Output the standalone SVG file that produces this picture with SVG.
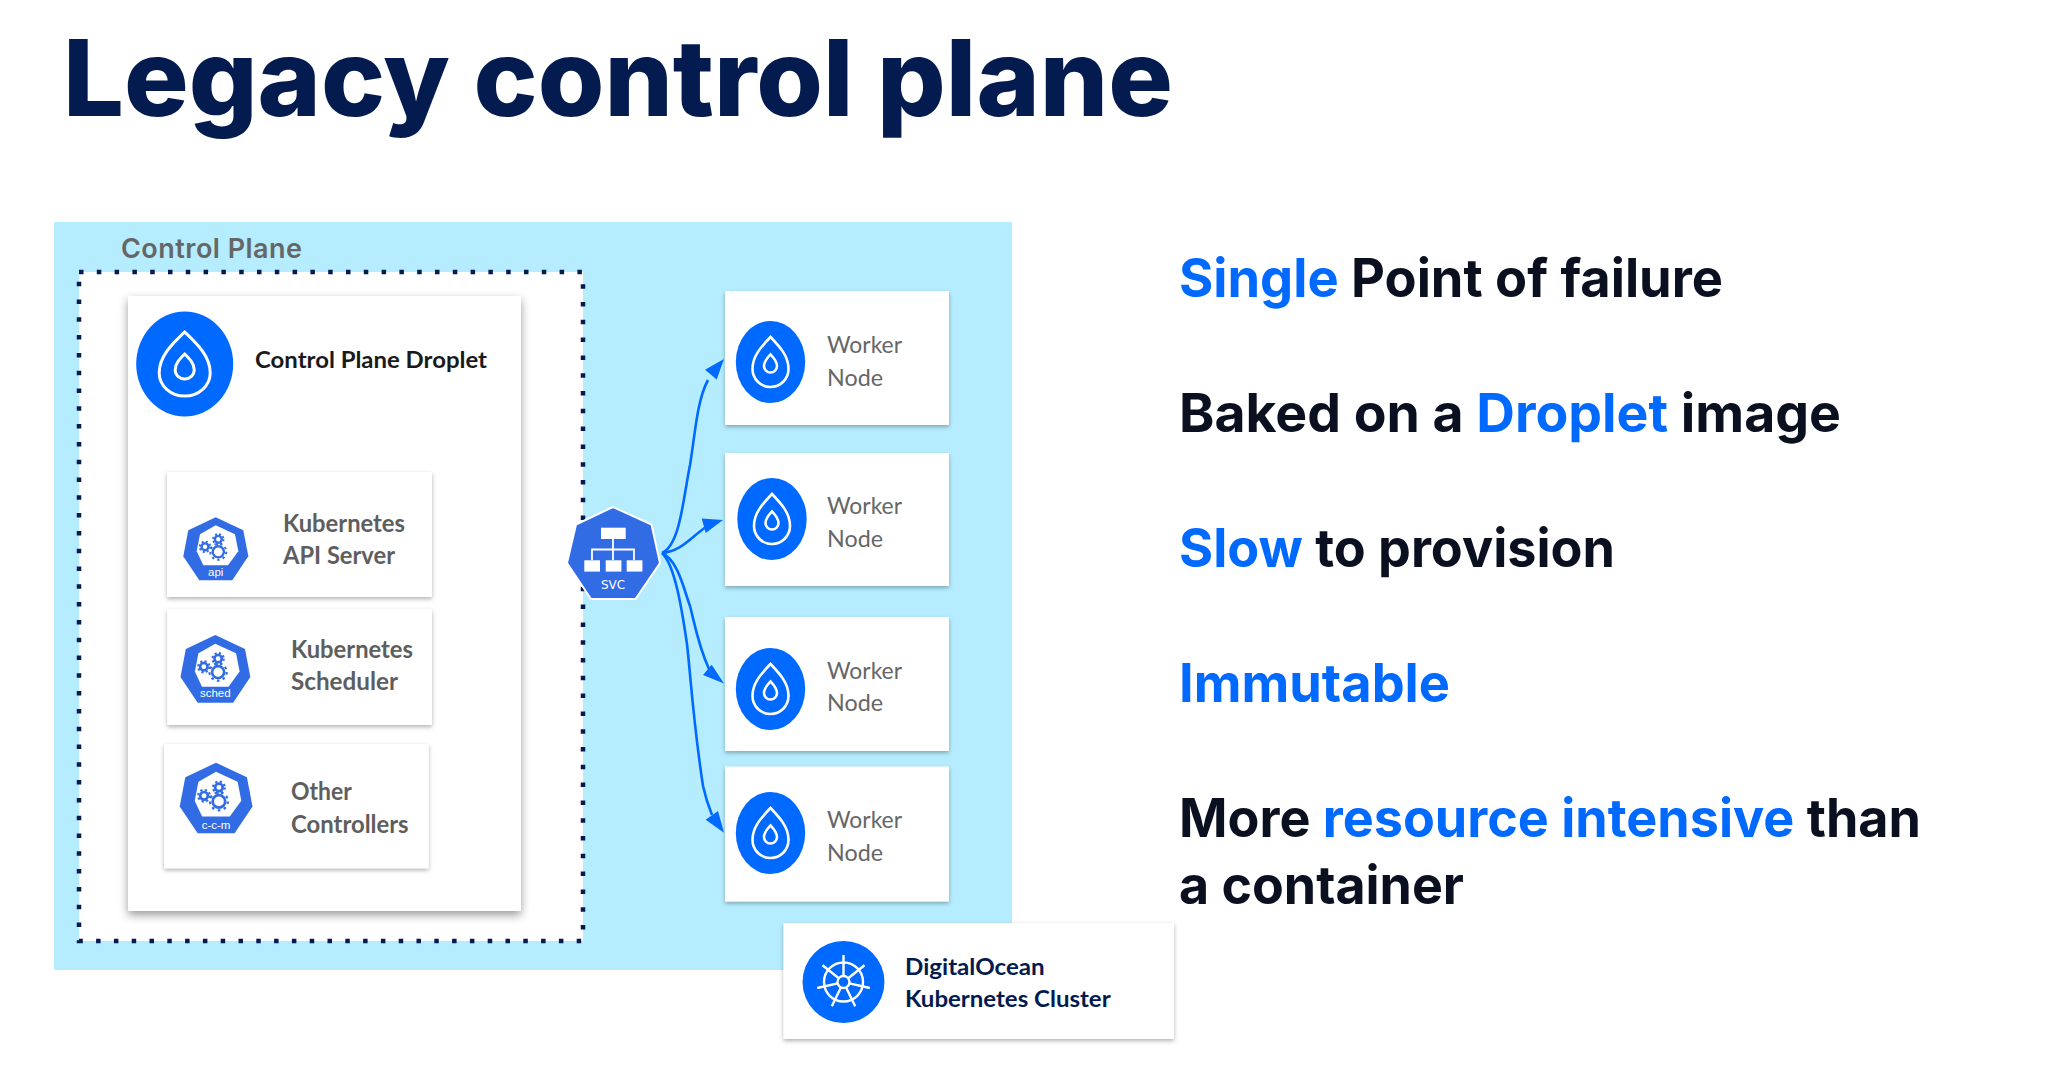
<svg xmlns="http://www.w3.org/2000/svg" width="2064" height="1072" viewBox="0 0 2064 1072">
<style>
text{font-family:"Inter","Liberation Sans",sans-serif}
.card{fill:#fff;filter:url(#sh)}
.blue{fill:#0069ff}
.wl{fill:none;stroke:#fff}
.worker{font-family:"Lato","Liberation Sans",sans-serif;font-size:23px;fill:#666;font-weight:400}
.lab{font-family:"Lato","Liberation Sans",sans-serif;font-size:24px;fill:#5e5e5e;font-weight:700}
.big{font-family:"Inter",sans-serif;font-size:53px;font-weight:700;fill:#0b1020}
.hl{fill:#0069ff}
.conn{fill:none;stroke:#0069ff;stroke-width:2.6}
.head{fill:#0069ff}
.k{fill:#326ce5}
.gear{fill:none;stroke:#326ce5;stroke-width:2.4}
.teeth{fill:none;stroke:#326ce5;stroke-width:2}
.hx{font-family:"Liberation Sans",sans-serif;font-size:11.500px;fill:#fff;text-anchor:middle}
.do{font-family:"Lato",sans-serif;font-size:23px;font-weight:700;fill:#031b4e}
</style>
<defs>
<filter id="sh" x="-10%" y="-10%" width="120%" height="125%"><feDropShadow dx="0" dy="2" stdDeviation="2" flood-color="#000" flood-opacity="0.3"/></filter>
<filter id="shb" x="-10%" y="-10%" width="120%" height="120%"><feDropShadow dx="0" dy="4" stdDeviation="5" flood-color="#000" flood-opacity="0.4"/></filter>
<path id="drop" vector-effect="non-scaling-stroke" d="M0,-1C.5,-.62 1,-.25 1,.28C1,.68 .55,1 0,1C-.55,1 -1,.68 -1,.28C-1,-.25 -.5,-.62 0,-1Z"/>
<g id="wdrop">
<ellipse class="blue" rx="34.700" ry="41"/>
<use href="#drop" class="wl" stroke-width="2.600" transform="scale(18 25)"/>
<use href="#drop" class="wl" stroke-width="2.600" transform="translate(0 1.500) scale(6.500 9)"/>
</g>
<g id="kube">
<polygon class="k" points="0,-33 27.600,-20 32.600,6 16.600,30 -16.400,30 -32.400,6 -27.400,-20"/>
<polygon fill="#fff" points="0,-25 19.300,-16 22.600,1 12.300,15 -12.400,15 -19,1 -15.700,-16"/>
<circle class="gear" cx="2.600" cy="1.500" r="5.600"/><circle class="teeth" cx="2.600" cy="1.500" r="8" stroke-dasharray="2.400 3.200"/>
<circle class="gear" cx="-10.700" cy="-3.500" r="3.400" stroke-width="2"/><circle class="teeth" cx="-10.700" cy="-3.500" r="5.200" stroke-dasharray="2 2.100"/>
<circle class="gear" cx="2.600" cy="-11" r="3.400" stroke-width="2"/><circle class="teeth" cx="2.600" cy="-11" r="5.200" stroke-dasharray="2 2.100"/>
</g>
</defs>
<rect id="bg" width="2064" height="1072" fill="#fff"/>
<text id="title" x="63" y="116" font-size="106" font-weight="800" fill="#031b4e" textLength="1110" lengthAdjust="spacingAndGlyphs">Legacy control plane</text>
<rect id="panel" x="54" y="222" width="958" height="748" fill="#b5edff"/>
<g id="control-plane">
<rect x="79" y="272" width="504" height="669" fill="#fff"/>
<rect x="79" y="272" width="504" height="669" fill="none" stroke="#031b4e" stroke-width="4.500" stroke-dasharray="4.500 13.300"/>
<text x="121" y="257.500" font-size="27" font-weight="600" fill="#666" textLength="181">Control Plane</text>
</g>
<g id="droplet">
<rect x="128" y="296" width="393" height="615" fill="#fff" filter="url(#shb)"/>
<ellipse class="blue" cx="184.700" cy="364" rx="48.500" ry="52.500"/>
<use href="#drop" class="wl" stroke-width="3" transform="translate(184.700 364) scale(25.500 32)"/>
<use href="#drop" class="wl" stroke-width="3" transform="translate(184.700 366.500) scale(9.500 12.500)"/>
<text x="255" y="368" font-size="23" font-weight="700" fill="#1a1a1a" style="font-family:Lato,sans-serif" textLength="232" lengthAdjust="spacingAndGlyphs">Control Plane Droplet</text>
</g>
<g id="api-server">
<rect class="card" x="167" y="472" width="265" height="125"/>
<use href="#kube" transform="translate(215.700 550.300)"/>
<text class="hx" x="215.700" y="576">api</text>
<text class="lab" x="283" y="532" textLength="122" lengthAdjust="spacingAndGlyphs">Kubernetes</text>
<text class="lab" x="283" y="563.500" textLength="112" lengthAdjust="spacingAndGlyphs">API Server</text>
</g>
<g id="scheduler">
<rect class="card" x="167.300" y="609.300" width="264.700" height="115.700"/>
<use href="#kube" transform="translate(215.300 670.500) scale(1.075)"/>
<text class="hx" x="215.300" y="696.700">sched</text>
<text class="lab" x="291" y="658" textLength="122" lengthAdjust="spacingAndGlyphs">Kubernetes</text>
<text class="lab" x="291" y="690" textLength="107" lengthAdjust="spacingAndGlyphs">Scheduler</text>
</g>
<g id="controllers">
<rect class="card" x="164" y="744" width="264.700" height="124.300"/>
<use href="#kube" transform="translate(216 799.700) scale(1.120)"/>
<text class="hx" x="216" y="829">c-c-m</text>
<text class="lab" x="291" y="800" textLength="60.700" lengthAdjust="spacingAndGlyphs">Other</text>
<text class="lab" x="291" y="832.700" textLength="117.600" lengthAdjust="spacingAndGlyphs">Controllers</text>
</g>
<g id="workers">
<g id="worker-1"><rect class="card" x="725" y="291" width="224" height="134"/><use href="#wdrop" transform="translate(770.500 362)"/><text class="worker" x="827" y="353" textLength="75" lengthAdjust="spacingAndGlyphs">Worker</text><text class="worker" x="827" y="386" textLength="56" lengthAdjust="spacingAndGlyphs">Node</text></g>
<g id="worker-2"><rect class="card" x="725" y="453" width="224" height="133"/><use href="#wdrop" transform="translate(772 519)"/><text class="worker" x="827" y="513.500" textLength="75" lengthAdjust="spacingAndGlyphs">Worker</text><text class="worker" x="827" y="547" textLength="56" lengthAdjust="spacingAndGlyphs">Node</text></g>
<g id="worker-3"><rect class="card" x="725" y="617" width="224" height="134"/><use href="#wdrop" transform="translate(770.500 689)"/><text class="worker" x="827" y="679" textLength="75" lengthAdjust="spacingAndGlyphs">Worker</text><text class="worker" x="827" y="711" textLength="56" lengthAdjust="spacingAndGlyphs">Node</text></g>
<g id="worker-4"><rect class="card" x="725" y="766.500" width="224" height="135"/><use href="#wdrop" transform="translate(770.500 833)"/><text class="worker" x="827" y="828" textLength="75" lengthAdjust="spacingAndGlyphs">Worker</text><text class="worker" x="827" y="861" textLength="56" lengthAdjust="spacingAndGlyphs">Node</text></g>
</g>
<g id="connectors">
<path class="conn" d="M662,553C680,545 683,500 690,465C695,435 697,400 708,380"/>
<polygon class="head" points="724,359 705,369.700 716.700,379.600"/>
<path class="conn" d="M662,553C680,552 690,538 706,527"/>
<polygon class="head" points="723,520 701.700,518.500 705.700,533"/>
<path class="conn" d="M662,553C678,560 684,590 690,606C695,625 698,645 709,669"/>
<polygon class="head" points="724,683.500 703,675 711.700,664.700"/>
<path class="conn" d="M662,553C675,565 682,610 687,644C691,680 693,720 703,786C705,795 708,805 712,815"/>
<polygon class="head" points="724,832.700 705.700,819.700 718,811"/>
</g>
<g id="svc">
<polygon points="613,507 651.500,524.500 660,563 635.500,599 591,599 567,563 576,524.500" fill="#326ce5" stroke="#fff" stroke-width="2"/>
<g fill="#fff"><rect x="601" y="527.700" width="24.700" height="11.300"/><rect x="584.300" y="560.300" width="15.700" height="11.300"/><rect x="605.700" y="560.300" width="15.700" height="11.300"/><rect x="626.700" y="560.300" width="15.700" height="11.300"/></g>
<path d="M613,539V560M592,560V549.500H634V560" fill="none" stroke="#fff" stroke-width="1.800"/>
<text x="613" y="589" font-size="12" fill="#fff" text-anchor="middle" style="font-family:'DejaVu Sans',sans-serif">SVC</text>
</g>
<g id="cluster">
<rect class="card" x="783.500" y="923" width="390.500" height="116"/>
<circle class="blue" cx="843.500" cy="982" r="41"/>
<g fill="none" stroke="#fff" stroke-width="2.400" transform="translate(843.500 982)"><circle r="19.500"/><circle r="6"/>
<path d="M0,-6V-27M4.700,-3.700L21,-16.800M5.800,1.300L26.300,6M2.600,5.400L11.700,24.300M-2.600,5.400L-11.700,24.300M-5.800,1.300L-26.300,6M-4.700,-3.700L-21,-16.800"/></g>
<text class="do" x="905" y="975" textLength="139.700" lengthAdjust="spacingAndGlyphs">DigitalOcean</text>
<text class="do" x="905" y="1007" textLength="205.600" lengthAdjust="spacingAndGlyphs">Kubernetes Cluster</text>
</g>
<g id="points">
<text class="big" x="1179" y="297" textLength="544" lengthAdjust="spacingAndGlyphs"><tspan class="hl">Single</tspan> Point of failure</text>
<text class="big" x="1179" y="432" textLength="662" lengthAdjust="spacingAndGlyphs">Baked on a <tspan class="hl">Droplet</tspan> image</text>
<text class="big" x="1179" y="567" textLength="436" lengthAdjust="spacingAndGlyphs"><tspan class="hl">Slow</tspan> to provision</text>
<text class="big" x="1179" y="702" textLength="271" lengthAdjust="spacingAndGlyphs"><tspan class="hl">Immutable</tspan></text>
<text class="big" x="1179" y="837" textLength="742" lengthAdjust="spacingAndGlyphs">More <tspan class="hl">resource intensive</tspan> than</text>
<text class="big" x="1179" y="904" textLength="285" lengthAdjust="spacingAndGlyphs">a container</text>
</g>
</svg>
